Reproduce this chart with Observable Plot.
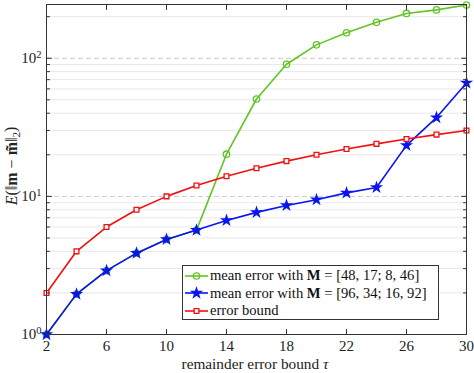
<!DOCTYPE html>
<html><head><meta charset="utf-8">
<script src="https://cdn.jsdelivr.net/npm/d3@7"></script>
<script src="https://cdn.jsdelivr.net/npm/@observablehq/plot@0.6"></script>
<style>
html,body{margin:0;padding:0;background:#fff;}
#wrap{position:relative;width:474px;height:373px;overflow:hidden;font-family:"Liberation Serif","DejaVu Serif",serif;}
#legend{position:absolute;left:182px;top:265px;width:257px;height:55px;border:1px solid #333;background:#fff;box-sizing:border-box;padding:1px 0 0 1px;font-size:14.6px;color:#111;}
.item{display:flex;align-items:center;height:17.5px;white-space:nowrap;}
.item svg{margin-right:1px;flex:none;}
</style></head><body><div id="wrap"></div>
<script>
const tau = [2,4,6,8,10,12,14,16,18,20,22,24,26,28,30];
const errSmallM = [1,1.96,2.9,3.88,4.88,5.7,20.2,50.7,90.5,125,153,182,211,224,243];
const errLargeM = [1,1.96,2.9,3.88,4.88,5.7,6.7,7.66,8.6,9.46,10.6,11.6,23.4,37.2,66.2];
const errBound = [2,4,6,8,10,12,14,16,18,20,22,24,26,28,30];
const xTicks = [2,6,10,14,18,22,26,30];
const yMajor = [1,10,100];
const yMinor = [2,3,4,5,6,7,8,9,20,30,40,50,60,70,80,90,200];
const legendLabels = [
  'mean error with <b>M</b> = [48, 17; 8, 46]',
  'mean error with <b>M</b> = [96, 34; 16, 92]',
  'error bound'
];
const xLabel = "remainder error bound ";
const xLabelSym = "τ";

const series = [
  {values: errSmallM, color: "#62c425", symbol: "circle", fill: "none", r: 3.2},
  {values: errLargeM, color: "#0a14f0", symbol: "star", fill: "#0a14f0", r: 2.9},
  {values: errBound, color: "#f01010", symbol: "square", fill: "#fff", r: 2.7}
];
series.forEach(s => s.data = tau.map((t, i) => ({tau: t, value: s.values[i]})));

const tickShape = {draw(ctx, l) { ctx.moveTo(0, 0); ctx.lineTo(0, -l); }};
const axisColor = "#333";
const tk = (data, opts) => Plot.vector(data, {anchor: "start", shape: tickShape, stroke: axisColor, strokeWidth: 1, ...opts});

const svg = Plot.plot({
  width: 474, height: 373,
  marginLeft: 46, marginRight: 8, marginTop: 4, marginBottom: 39,
  style: {fontFamily: '"Liberation Serif","DejaVu Serif",serif', fontSize: "15px", color: "#222", background: "#fff"},
  x: {domain: [2, 30], label: null},
  y: {type: "log", domain: [1, 245], label: null},
  marks: [
    Plot.ruleY(yMinor, {stroke: "#e2e2e2", strokeWidth: 0.8}),
    Plot.ruleY([10, 100], {stroke: "#c4c4c4", strokeWidth: 0.9, strokeDasharray: "5,3"}),
    ...series.flatMap(s => [
      Plot.line(s.data, {x: "tau", y: "value", stroke: s.color, strokeWidth: 1.6}),
      Plot.dot(s.data, {x: "tau", y: "value", symbol: s.symbol, r: s.r, stroke: s.color, fill: s.fill, strokeWidth: 1.3})
    ]),
    Plot.frame({stroke: axisColor, strokeWidth: 1}),
    tk(xTicks, {x: d => d, frameAnchor: "bottom", length: 5, rotate: 0}),
    tk(xTicks, {x: d => d, frameAnchor: "top", length: 5, rotate: 180}),
    tk(yMajor, {y: d => d, frameAnchor: "left", length: 5, rotate: 90}),
    tk(yMajor, {y: d => d, frameAnchor: "right", length: 5, rotate: -90}),
    tk(yMinor, {y: d => d, frameAnchor: "left", length: 3, rotate: 90}),
    tk(yMinor, {y: d => d, frameAnchor: "right", length: 3, rotate: -90}),
    Plot.axisX({ticks: xTicks, tickSize: 0, tickPadding: 6, fontSize: 15}),
    Plot.axisY({ticks: yMajor, tickSize: 0, tickPadding: 5, fontSize: 15, tickFormat: d => `10^${Math.round(Math.log10(d))}`})
  ]
});
document.getElementById("wrap").appendChild(svg);

// superscript exponents on y tick labels
d3.select(svg).selectAll('g[aria-label="y-axis tick label"] text').each(function () {
  const [b, e] = this.textContent.split("^");
  const sel = d3.select(this);
  sel.text(null);
  sel.append("tspan").text(b);
  sel.append("tspan").attr("dy", "-0.5em").attr("font-size", "10.5px").text(e);
});

const s = d3.select(svg);
// x label
const xl = s.append("text").attr("x", 255).attr("y", 369).attr("text-anchor", "middle")
  .attr("font-size", 15.3).attr("fill", "#222");
xl.append("tspan").text(xLabel);
xl.append("tspan").attr("font-style", "italic").text(xLabelSym);
// y label
const yl = s.append("text").attr("transform", "translate(17,166) rotate(-90)").attr("text-anchor", "middle")
  .attr("font-size", 16).attr("fill", "#222");
yl.append("tspan").attr("font-style", "italic").text("E");
yl.append("tspan").text("(‖");
yl.append("tspan").attr("font-weight", "bold").text("m");
yl.append("tspan").text(" − ");
yl.append("tspan").attr("font-weight", "bold").text("m\u0303");
yl.append("tspan").text("‖");
yl.append("tspan").attr("font-size", 11).attr("dy", "0.3em").text("2");
yl.append("tspan").attr("dy", "-0.3em").text(")");

// legend
const legend = d3.select("#wrap").append("div").attr("id", "legend");
series.forEach((ser, i) => {
  const item = legend.append("div").attr("class", "item");
  const sv = item.append("svg").attr("width", 25).attr("height", 14);
  sv.append("line").attr("x1", 1).attr("x2", 24).attr("y1", 7).attr("y2", 7)
    .attr("stroke", ser.color).attr("stroke-width", 1.6);
  const sym = {circle: d3.symbolCircle, star: d3.symbolStar, square: d3.symbolSquare}[ser.symbol];
  const area = Math.PI * ser.r * ser.r;
  sv.append("path").attr("d", d3.symbol(sym, area)()).attr("transform", "translate(12.5,7)")
    .attr("stroke", ser.color).attr("fill", ser.fill).attr("stroke-width", 1.3);
  item.append("span").html(legendLabels[i]);
});
</script>
</body></html>
